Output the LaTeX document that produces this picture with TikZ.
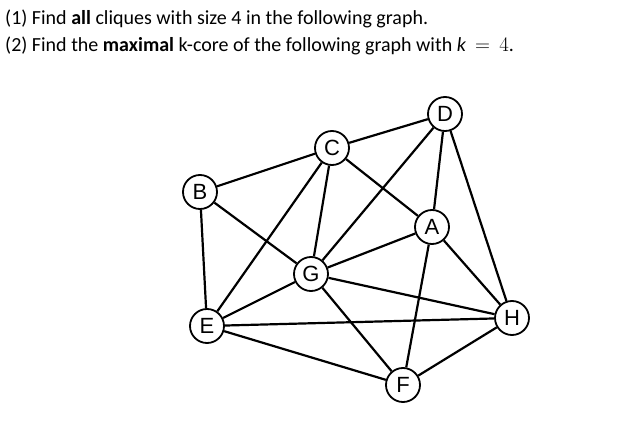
\documentclass[tikz,border=0pt]{standalone}
\usepackage{fontspec}
\setmainfont{Carlito}
\setsansfont{Liberation Sans}
\begin{document}
\begin{tikzpicture}[x=1pt,y=-1pt,
  vert/.style={circle,draw,line width=1.8pt,fill=white,minimum size=34pt,inner sep=0pt,font=\sffamily\fontsize{22}{22}\selectfont},
  edge/.style={line width=2.2pt},
  txt/.style={anchor=west,inner sep=0pt,font=\fontsize{20}{24}\selectfont}]
\useasboundingbox (0,0) rectangle (630,422);
\node[txt] (t1) at (5,19) {(1) Find \textbf{all} cliques with size 4 in the following graph.};
\node[txt] (t2) at (5,46) {(2) Find the \textbf{maximal} k-core of the following graph with $\mathit{k}\,=\,4$.};
\node[vert] (D) at (445,114) {D};
\node[vert] (C) at (332,148) {C};
\node[vert] (B) at (200,192) {B};
\node[vert] (A) at (432,227) {A};
\node[vert] (G) at (311,274) {G};
\node[vert] (E) at (207,326) {E};
\node[vert] (H) at (512,318) {H};
\node[vert] (F) at (403,385) {F};
\foreach \a/\b in {C/D,B/C,B/E,B/G,C/G,C/E,C/A,D/A,D/G,D/H,A/G,A/H,A/F,G/E,G/H,G/F,E/H,E/F,F/H}
  \draw[edge] (\a) -- (\b);
\end{tikzpicture}
\end{document}
